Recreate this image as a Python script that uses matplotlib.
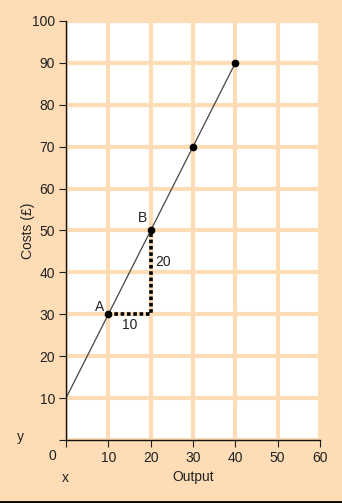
import matplotlib.pyplot as plt
from matplotlib.lines import Line2D

plt.rcParams['font.family'] = ['Liberation Sans', 'DejaVu Sans']

peach = '#fddcb6'

# cost line and marked points
line_x = [0, 40]
line_y = [10, 90]
pts_x = [10, 20, 30, 40]
pts_y = [30, 50, 70, 90]

# rise / run triangle between A and B
tri_x = [10, 20, 20]
tri_y = [30, 30, 50]
run_label = '10'
rise_label = '20'

xticks = [0, 10, 20, 30, 40, 50, 60]
yticks = [0, 10, 20, 30, 40, 50, 60, 70, 80, 90, 100]

fig = plt.figure(figsize=(3.42, 5.03), dpi=100, facecolor=peach)
ax = fig.add_axes([66/342, 63/503, 254/342, 419/503])
ax.set_facecolor('white')
ax.set_xlim(0, 60)
ax.set_ylim(0, 100)

ax.set_xticks(xticks)
ax.set_yticks(yticks)
ax.set_xticklabels([''] + [str(v) for v in xticks[1:]])
ax.set_yticklabels([''] + [str(v) for v in yticks[1:]])
ax.tick_params(labelsize=10, length=5, width=0.8, pad=3, colors='#222222')
ax.grid(True, color=peach, linewidth=3)
ax.set_axisbelow(True)
for s in ['top', 'right']:
    ax.spines[s].set_visible(False)
for s in ['left', 'bottom']:
    ax.spines[s].set_linewidth(1.0)
    ax.spines[s].set_color('#111111')
    ax.spines[s].set_zorder(5)

ax.plot(line_x, line_y, color='#444444', linewidth=0.9, zorder=3)
ax.plot(tri_x, tri_y, color='black', linewidth=2.6, linestyle=(0, (1, 0.75)), zorder=3)
ax.plot(pts_x, pts_y, 'o', color='black', markersize=4.5, zorder=4)

ax.text(9.0, 30.0, 'A', fontsize=10, ha='right', va='bottom', color='#222222')
ax.text(19.2, 51.2, 'B', fontsize=10, ha='right', va='bottom', color='#222222')
ax.text(15, 29.2, run_label, fontsize=10, ha='center', va='top', color='#222222')
ax.text(21, 42.5, rise_label, fontsize=10, ha='left', va='center', color='#222222')

fig.text(52/342, 1 - 456/503, '0', fontsize=10, ha='center', va='center', color='#222222')
fig.text(20/342, 1 - 437/503, 'y', fontsize=10, ha='center', va='center', color='#222222')
fig.text(65/342, 1 - 478/503, 'x', fontsize=10, ha='center', va='center', color='#222222')
fig.text(193/342, 1 - 477/503, 'Output', fontsize=10, ha='center', va='center', color='#222222')
fig.text(28/342, 1 - 231/503, 'Costs (£)', fontsize=10, ha='center', va='center',
         rotation=90, color='#222222')

# dark rule along the bottom edge
fig.add_artist(Line2D([0, 1], [1/503, 1/503], transform=fig.transFigure,
                      color='black', linewidth=2))

fig.savefig('out.png', dpi=100, facecolor=peach)
